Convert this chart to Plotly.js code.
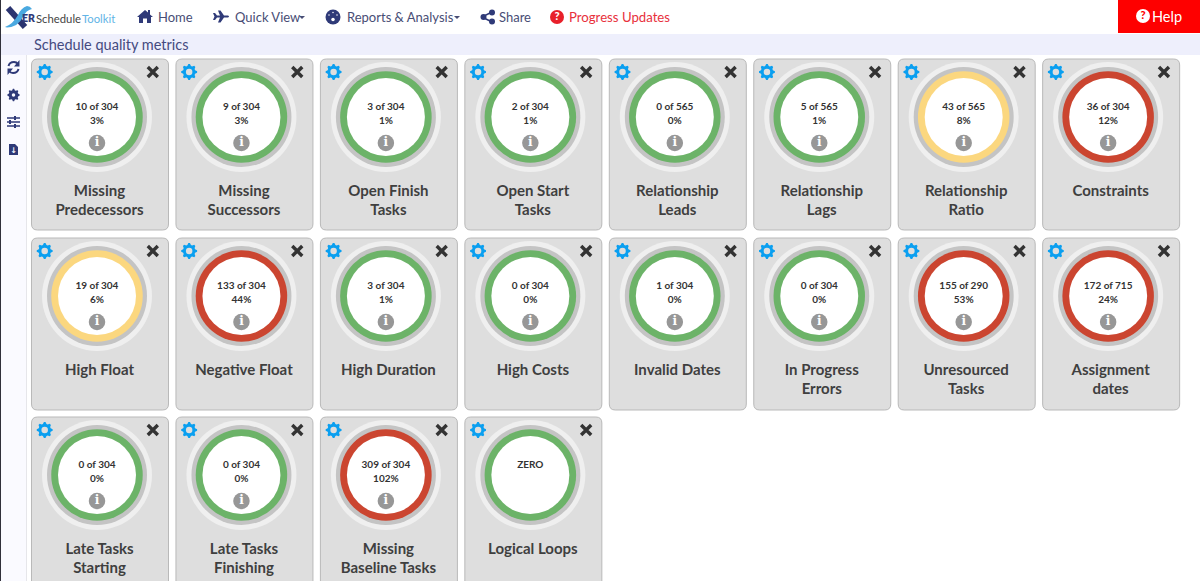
<!DOCTYPE html>
<html><head><meta charset="utf-8">
<script src="https://cdn.plot.ly/plotly-3.0.1.min.js"></script>
<style>html,body{margin:0;padding:0;background:#fff;overflow:hidden}#c{width:1200px;height:581px}</style>
</head><body><div id="c"></div>
<script>
// ---- data ----
const titleLine1 = ["Missing","Missing","Open Finish","Open Start","Relationship","Relationship","Relationship","Constraints",
  "High Float","Negative Float","High Duration","High Costs","Invalid Dates","In Progress","Unresourced","Assignment",
  "Late Tasks","Late Tasks","Missing","Logical Loops"];
const titleLine2 = ["Predecessors","Successors","Tasks","Tasks","Leads","Lags","Ratio","",
  "","","","","","Errors","Tasks","dates",
  "Starting","Finishing","Baseline Tasks",""];
const counts = [10,9,3,2,0,5,43,36, 19,133,3,0,1,0,155,172, 0,0,309,null];
const totals = [304,304,304,304,565,565,565,304, 304,304,304,304,304,304,290,715, 304,304,304,null];
const percents = [3,3,1,1,0,1,8,12, 6,44,1,0,0,0,53,24, 0,0,102,null];
const statuses = ["g","g","g","g","g","g","y","r", "y","r","g","g","g","g","r","r", "g","g","r","g"];
const navLabels = ["Home","Quick View","Reports & Analysis","Share"];
const navX = [156,233,345,497];
const pageTitle = "Schedule quality metrics";

// ---- layout constants ----
const statusColor = {g:"#6cb368", y:"#fbd77f", r:"#cb4530"};
const NAVY = "#2f3a78", TXT = "#484d75", DARK = "#3f3f3f";
const COLS = 8, DX = 144.45, DY = 179;
const col = i => i % COLS, row = i => Math.floor(i / COLS);
const idx = titleLine1.map((_, i) => i);
const ringX = idx.map(i => 97 + col(i) * DX);
const ringY = idx.map(i => 117 + row(i) * DY);
const offs = (a, d) => a.map(v => v + d);
const hasInfo = idx.filter(i => counts[i] !== null);

function roundRect(x0, y0, x1, y1, r) {
  return `M${x0+r},${y0}L${x1-r},${y0}Q${x1},${y0} ${x1},${y0+r}L${x1},${y1-r}Q${x1},${y1} ${x1-r},${y1}L${x0+r},${y1}Q${x0},${y1} ${x0},${y1-r}L${x0},${y0+r}Q${x0},${y0} ${x0+r},${y0}Z`;
}
function gearPath(cx, cy, R, r, teeth) {
  let p = "";
  const n = teeth * 4;
  for (let k = 0; k < n; k++) {
    const a = (k - 0.5) * 2 * Math.PI / n - Math.PI / 2;
    const rad = (k % 4 < 2) ? R : r;
    p += (k ? "L" : "M") + (cx + rad * Math.cos(a)).toFixed(2) + "," + (cy + rad * Math.sin(a)).toFixed(2);
  }
  return p + "Z";
}
const shapes = [];
const fillShape = (path, color) => shapes.push({type:"path", path, fillcolor:color, line:{width:0}, layer:"below"});
const lineShape = (path, color, w) => shapes.push({type:"path", path, line:{color, width:w}, layer:"below"});
const rect = (x0,y0,x1,y1,color) => shapes.push({type:"rect",x0,y0,x1,y1,fillcolor:color,line:{width:0},layer:"below"});

// page chrome
rect(0,34,1200,55,"#eeeffc");
rect(0,55,26,581,"#fafaff");
rect(26,55,27,581,"#e6e6ea");
rect(0,0,1,581,"#30303a");
rect(1118,0,1200,33,"#fe0000");

// logo
lineShape("M8,8L25,27", "#2a3470", 6);
fillShape("M5,27Q13,24 18,15Q21,8 27,6Q30,6 32,9Q26,10 23,17Q18,27 7,27.5Z", "#4aa9e0");

// cards
idx.forEach(i => {
  const x0 = 31.5 + col(i) * DX, y0 = 59 + row(i) * DY;
  const h = row(i) === 0 ? 171 : 172;
  shapes.push({type:"path", path:roundRect(x0,y0,x0+137,y0+h,6), fillcolor:"#dedede", line:{color:"#b9b9b9",width:1}, layer:"below"});
  fillShape(gearPath(ringX[i]-52.3, ringY[i]-45, 8, 6.2, 8), "#0a9ff0");
});

// nav icons
fillShape("M137,17L145,10L148,12.5L148,10L150,10L150,14.5L153,17L151,17L151,23L147,23L147,18.5L143,18.5L143,23L139,23L139,17Z", NAVY);
fillShape("M213,13L215,13L217,15.5L220,15.5L218,10.5L220.5,10.5L224,15.5L228,15.5Q230,16.5 228,17.5L224,17.5L220.5,22.5L218,22.5L220,17.5L217,17.5L215,20L213,20L214.5,16.5Z", NAVY);
lineShape("M482,17L491,12.5M482,17L491,21.5", NAVY, 1.5);
// dropdown carets
fillShape("M299,16L305,16L302,19Z", TXT);
fillShape("M454,16L460,16L457,19Z", TXT);
// sidebar icons
lineShape("M8.5,66Q9.5,62 14,62Q16.5,62 18,64", NAVY, 2);
lineShape("M18.5,69Q17.5,73 13,73Q10.5,73 9,71", NAVY, 2);
fillShape("M19.5,60L19.5,66.5L14,66.5Z", NAVY);
fillShape("M7.5,75L7.5,68.5L13,68.5Z", NAVY);
fillShape(gearPath(13.5,95,6.2,4.8,8), NAVY);
lineShape("M7,118L20,118M7,122L20,122M7,126L20,126", NAVY, 1.3);
lineShape("M15,116L15,120M10,120L10,124M15,124L15,128", NAVY, 2);
fillShape("M9,144L15,144L18,147L18,155L9,155Z", NAVY);

// marks: rings through the x/y axes
const scatter = (x, y, size, color) => ({type:"scatter", mode:"markers", x, y, hoverinfo:"skip",
  marker:{size, color, line:{width:0}, opacity:1}});
const textTrace = (x, y, text, size, color, weight, family) => ({type:"scatter", mode:"text", x, y, text, hoverinfo:"skip",
  textposition:"middle center", textfont:{size, color, weight, family:family||"Lato"}});

const withInfo = a => hasInfo.map(i => a[i]);
const traces = [
  scatter(ringX, ringY, 110, "#efefef"),
  scatter(ringX, ringY, 100, "#c4c4c4"),
  scatter(ringX, ringY, 91.5, idx.map(i => statusColor[statuses[i]])),
  scatter(ringX, ringY, 78, "#ffffff"),
  scatter(withInfo(ringX), offs(withInfo(ringY), 26), 16.5, "#979797"),
  textTrace(withInfo(ringX), offs(withInfo(ringY), 26), hasInfo.map(() => "i"), 12, "#ffffff", 900, "DejaVu Serif"),
  textTrace(withInfo(ringX), offs(withInfo(ringY), -9.5), hasInfo.map(i => `${counts[i]} of ${totals[i]}`), 10, "#333333", 700),
  textTrace(withInfo(ringX), offs(withInfo(ringY), 4.5), hasInfo.map(i => `${percents[i]}%`), 10, "#333333", 700),
  textTrace([ringX[19]], [ringY[19]-9.5], ["ZERO"], 10, "#333333", 700),
  // gear holes, close crosses
  scatter(offs(ringX,-52.3), offs(ringY,-45), 6.5, "#dedede"),
  {type:"scatter", mode:"markers", x:offs(ringX,55.8), y:offs(ringY,-45), hoverinfo:"skip",
    marker:{symbol:"x-thin", size:10, line:{width:3.4,color:"#333333"}, color:"#333333"}},
  // card titles
  textTrace(offs(ringX,2.5), offs(ringY,75), titleLine1, 15, DARK, 700),
  textTrace(offs(ringX,2.5), offs(ringY,94.5), titleLine2, 15, DARK, 700),
  // small chrome dots
  scatter([13.5],[95],[3.5],"#fafaff"),
  scatter([333],[17],[15],NAVY),
  scatter([329,333,337],[15,12.5,15],[1.5,1.5,1.5],"#ffffff"),
  scatter([333],[19.5],[3.5],"#ffffff"),
  scatter([483.5,492,492],[17,12.5,21.5],[6,6,6],NAVY),
  scatter([557],[17],[14],"#e8202a"),
  textTrace([557],[17],["?"],11,"#ffffff",900),
  scatter([1143],[16],[14],"#ffffff"),
  textTrace([1143],[16],["?"],11,"#fe0000",900),
  textTrace([13.5],[151],["↓"],8,"#fafaff",900,"DejaVu Sans")
];

const ann = (x, y, text, size, color, opts) => Object.assign({x, y, text, showarrow:false, xanchor:"left", yanchor:"middle",
  font:{size, color, family:"Lato"}, xref:"x", yref:"y"}, opts||{});
const annotations = navLabels.map((t, i) => ann(navX[i], 17, t, 13, TXT));
annotations.push(
  ann(567, 17, "Progress Updates", 13.2, "#e8303c"),
  ann(1150, 16, "Help", 14.5, "#ffffff"),
  ann(32, 44.5, pageTitle, 14.5, "#444a80"),
  ann(34, 18, "Schedule", 11.3, "#444444"),
  ann(79.5, 18, "Toolkit", 11.3, "#62b4e6"),
  ann(19.5, 17.5, "ER", 10.5, NAVY, {font:{size:10.5,color:NAVY,family:"Lato",weight:800}})
);

const layout = {
  width:1200, height:581, margin:{l:0,r:0,t:0,b:0}, showlegend:false,
  paper_bgcolor:"#ffffff", plot_bgcolor:"#ffffff",
  xaxis:{range:[0,1200], visible:false, fixedrange:true},
  yaxis:{range:[581,0], visible:false, fixedrange:true},
  shapes, annotations
};
Plotly.newPlot("c", traces, layout, {displayModeBar:false, staticPlot:true});
</script></body></html>
